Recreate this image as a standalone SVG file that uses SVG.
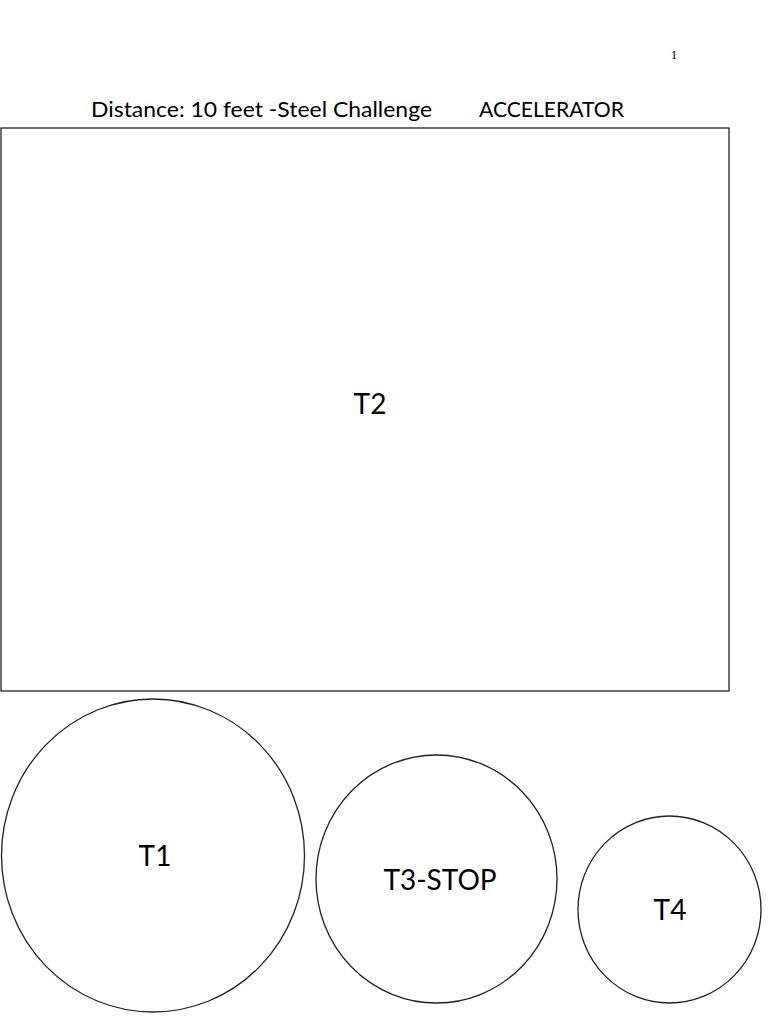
<svg xmlns="http://www.w3.org/2000/svg" width="768" height="1024" viewBox="0 0 768 1024">
<style>
.shape{fill:#fff;stroke:#222;stroke-width:1.3}
.lbl{font-family:Lato,"Open Sans","Liberation Sans",sans-serif;fill:#000;text-anchor:middle}
.title{font-family:Lato,"Open Sans","Liberation Sans",sans-serif;fill:#000;font-size:22px}
</style>
<rect width="768" height="1024" fill="#fff"/>
<text x="674" y="59" font-family="'Liberation Serif',serif" font-size="13" fill="#000" text-anchor="middle">1</text>
<text class="title" x="91" y="117" textLength="341" lengthAdjust="spacingAndGlyphs">Distance: 10 feet -Steel Challenge</text>
<text class="title" x="479" y="117" textLength="145" lengthAdjust="spacingAndGlyphs">ACCELERATOR</text>
<g id="T2">
<rect class="shape" x="1" y="128" width="728" height="563"/>
<text class="lbl" x="370" y="414" font-size="28">T2</text>
</g>
<g id="T1">
<ellipse class="shape" cx="153" cy="855.5" rx="151.5" ry="156.5"/>
<text class="lbl" x="155" y="866" font-size="28">T1</text>
</g>
<g id="T3">
<ellipse class="shape" cx="436.5" cy="879" rx="120.5" ry="124"/>
<text class="lbl" x="440" y="890" font-size="28">T3-STOP</text>
</g>
<g id="T4">
<ellipse class="shape" cx="669.5" cy="909.5" rx="91.5" ry="93.5"/>
<text class="lbl" x="670" y="920" font-size="28">T4</text>
</g>
<g id="connectors"/>
</svg>
